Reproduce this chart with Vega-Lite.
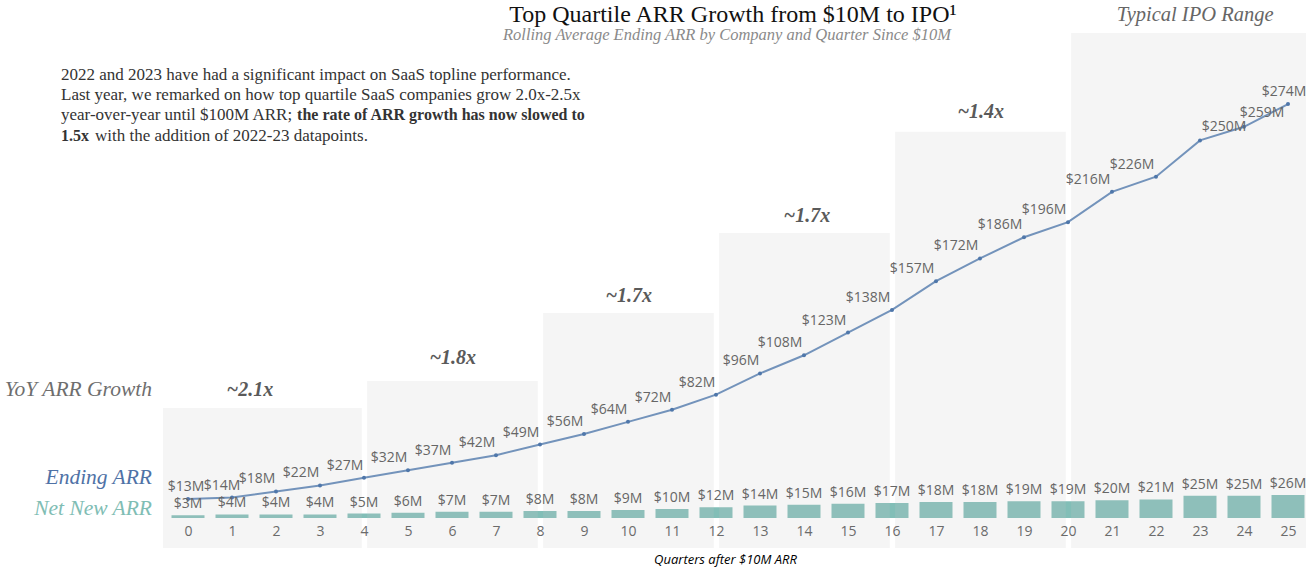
{
  "$schema": "https://vega.github.io/schema/vega-lite/v6.json",
  "width": 1314,
  "height": 570,
  "padding": 0,
  "autosize": {"type": "none"},
  "background": "#ffffff",
  "config": {"view": {"stroke": null}},
  "datasets": {
    "arr": [
      {"q": 0, "ending": 13, "netnew": 3},
      {"q": 1, "ending": 14, "netnew": 4},
      {"q": 2, "ending": 18, "netnew": 4},
      {"q": 3, "ending": 22, "netnew": 4},
      {"q": 4, "ending": 27, "netnew": 5},
      {"q": 5, "ending": 32, "netnew": 6},
      {"q": 6, "ending": 37, "netnew": 7},
      {"q": 7, "ending": 42, "netnew": 7},
      {"q": 8, "ending": 49, "netnew": 8},
      {"q": 9, "ending": 56, "netnew": 8},
      {"q": 10, "ending": 64, "netnew": 9},
      {"q": 11, "ending": 72, "netnew": 10},
      {"q": 12, "ending": 82, "netnew": 12},
      {"q": 13, "ending": 96, "netnew": 14},
      {"q": 14, "ending": 108, "netnew": 15},
      {"q": 15, "ending": 123, "netnew": 16},
      {"q": 16, "ending": 138, "netnew": 17},
      {"q": 17, "ending": 157, "netnew": 18},
      {"q": 18, "ending": 172, "netnew": 18},
      {"q": 19, "ending": 186, "netnew": 19},
      {"q": 20, "ending": 196, "netnew": 19},
      {"q": 21, "ending": 216, "netnew": 20},
      {"q": 22, "ending": 226, "netnew": 21},
      {"q": 23, "ending": 250, "netnew": 25},
      {"q": 24, "ending": 259, "netnew": 25},
      {"q": 25, "ending": 274, "netnew": 26}
    ],
    "boxes": [
      {"q": -0.57, "q2": 3.95, "top": 73.2, "bottom": -19.4},
      {"q": 4.07, "q2": 7.95, "top": 91.0, "bottom": -19.4},
      {"q": 8.07, "q2": 11.95, "top": 136.0, "bottom": -19.4},
      {"q": 12.07, "q2": 15.95, "top": 188.8, "bottom": -19.4},
      {"q": 16.07, "q2": 19.95, "top": 255.8, "bottom": -19.4},
      {"q": 20.07, "q2": 25.41, "top": 321.0, "bottom": -19.4}
    ],
    "growth": [
      {"q": 1.41, "v": 85.0, "label": "~2.1x"},
      {"q": 6.02, "v": 106.2, "label": "~1.8x"},
      {"q": 10.02, "v": 147.2, "label": "~1.7x"},
      {"q": 14.07, "v": 200.0, "label": "~1.7x"},
      {"q": 18.02, "v": 268.8, "label": "~1.4x"}
    ],
    "ipo": [{"q": 22.89, "v": 332.9, "label": "Typical IPO Range"}],
    "leftlabels": [
      {"q": -0.818, "v": 85.05, "label": "YoY ARR Growth", "group": "growth"},
      {"q": -0.818, "v": 26.9, "label": "Ending ARR", "group": "ending"},
      {"q": -0.818, "v": 6.4, "label": "Net New ARR", "group": "netnew"}
    ],
    "title": [{"q": 12.386, "v": 332.9, "label": "Top Quartile ARR Growth from $10M to IPO¹"}],
    "subtitle": [{"q": 12.25, "v": 319.7, "label": "Rolling Average Ending ARR by Company and Quarter Since $10M"}],
    "paranormal": [
      {"q": -2.886, "v": 293.3, "label": "2022 and 2023 have had a significant impact on SaaS topline performance."},
      {"q": -2.886, "v": 280.1, "label": "Last year, we remarked on how top quartile SaaS companies grow 2.0x-2.5x"},
      {"q": -2.886, "v": 266.9, "label": "year-over-year until $100M ARR;"},
      {"q": -2.114, "v": 253.0, "label": "with the addition of 2022-23 datapoints."}
    ],
    "parabold": [
      {"q": 2.48, "v": 266.9, "label": "the rate of ARR growth has now slowed to"},
      {"q": -2.886, "v": 253.0, "label": "1.5x"}
    ]
  },
  "encoding": {
    "x": {
      "field": "q",
      "type": "quantitative",
      "scale": {"domain": [-4.2727, 25.591], "nice": false, "zero": false, "padding": 0},
      "axis": {
        "values": [0,1,2,3,4,5,6,7,8,9,10,11,12,13,14,15,16,17,18,19,20,21,22,23,24,25],
        "orient": "bottom",
        "offset": -46,
        "domain": false,
        "ticks": false,
        "grid": false,
        "labelFont": "Open Sans",
        "labelFontSize": 14,
        "labelColor": "#6b6b6b",
        "labelPadding": 0,
        "labelOverlap": false,
        "labelFlush": false,
        "title": "Quarters after $10M ARR",
        "titleFont": "Open Sans",
        "titleFontStyle": "italic",
        "titleFontWeight": "normal",
        "titleFontSize": 13,
        "titleColor": "#000000",
        "titlePadding": 15,
        "titleX": 725,
        "zindex": 1
      }
    }
  },
  "layer": [
    {
      "data": {"name": "arr"},
      "mark": {"type": "bar", "width": 33, "color": "#82beb7"},
      "encoding": {
        "y": {"field": "netnew", "type": "quantitative", "scale": {"domain": [-58.8, 585.3], "nice": false, "zero": false}, "axis": null},
        "y2": {"datum": 0}
      }
    },
    {
      "layer": [
        {
          "data": {"name": "boxes"},
          "mark": {"type": "rect", "color": "#c8c8c8", "opacity": 0.18},
          "encoding": {
            "x2": {"field": "q2"},
            "y": {"field": "top", "type": "quantitative", "scale": {"domain": [-33.9, 342.8], "nice": false, "zero": false}, "axis": null},
            "y2": {"field": "bottom"}
          }
        },
        {
          "data": {"name": "arr"},
          "mark": {"type": "line", "color": "#7393bb", "strokeWidth": 2},
          "encoding": {
            "y": {"field": "ending", "type": "quantitative", "scale": {"domain": [-33.9, 342.8], "nice": false, "zero": false}, "axis": null}
          }
        },
        {
          "data": {"name": "arr"},
          "mark": {"type": "point", "filled": true, "color": "#4f77aa", "size": 16, "opacity": 1},
          "encoding": {
            "y": {"field": "ending", "type": "quantitative", "scale": {"domain": [-33.9, 342.8], "nice": false, "zero": false}, "axis": null}
          }
        },
        {
          "data": {"name": "arr"},
          "transform": [{"filter": "datum.q == 0"}, {"calculate": "'$' + datum.ending + 'M'", "as": "lbl"}],
          "mark": {"type": "text", "font": "Open Sans", "fontSize": 14, "color": "#666666", "baseline": "middle", "dy": -12, "dx": -2},
          "encoding": {
            "y": {"field": "ending", "type": "quantitative", "scale": {"domain": [-33.9, 342.8], "nice": false, "zero": false}, "axis": null},
            "text": {"field": "lbl"}
          }
        },
        {
          "data": {"name": "arr"},
          "transform": [{"filter": "datum.q == 1"}, {"calculate": "'$' + datum.ending + 'M'", "as": "lbl"}],
          "mark": {"type": "text", "font": "Open Sans", "fontSize": 14, "color": "#666666", "baseline": "middle", "dy": -12, "dx": -10},
          "encoding": {
            "y": {"field": "ending", "type": "quantitative", "scale": {"domain": [-33.9, 342.8], "nice": false, "zero": false}, "axis": null},
            "text": {"field": "lbl"}
          }
        },
        {
          "data": {"name": "arr"},
          "transform": [{"filter": "datum.q >= 2 && datum.q <= 13"}, {"calculate": "'$' + datum.ending + 'M'", "as": "lbl"}],
          "mark": {"type": "text", "font": "Open Sans", "fontSize": 14, "color": "#666666", "baseline": "middle", "dy": -12, "dx": -19},
          "encoding": {
            "y": {"field": "ending", "type": "quantitative", "scale": {"domain": [-33.9, 342.8], "nice": false, "zero": false}, "axis": null},
            "text": {"field": "lbl"}
          }
        },
        {
          "data": {"name": "arr"},
          "transform": [{"filter": "datum.q >= 14 && datum.q <= 22"}, {"calculate": "'$' + datum.ending + 'M'", "as": "lbl"}],
          "mark": {"type": "text", "font": "Open Sans", "fontSize": 14, "color": "#666666", "baseline": "middle", "dy": -12, "dx": -24},
          "encoding": {
            "y": {"field": "ending", "type": "quantitative", "scale": {"domain": [-33.9, 342.8], "nice": false, "zero": false}, "axis": null},
            "text": {"field": "lbl"}
          }
        },
        {
          "data": {"name": "arr"},
          "transform": [{"filter": "datum.q == 23"}, {"calculate": "'$' + datum.ending + 'M'", "as": "lbl"}],
          "mark": {"type": "text", "font": "Open Sans", "fontSize": 14, "color": "#666666", "baseline": "middle", "dy": -13, "dx": 24},
          "encoding": {
            "y": {"field": "ending", "type": "quantitative", "scale": {"domain": [-33.9, 342.8], "nice": false, "zero": false}, "axis": null},
            "text": {"field": "lbl"}
          }
        },
        {
          "data": {"name": "arr"},
          "transform": [{"filter": "datum.q == 24"}, {"calculate": "'$' + datum.ending + 'M'", "as": "lbl"}],
          "mark": {"type": "text", "font": "Open Sans", "fontSize": 14, "color": "#666666", "baseline": "middle", "dy": -14, "dx": 18},
          "encoding": {
            "y": {"field": "ending", "type": "quantitative", "scale": {"domain": [-33.9, 342.8], "nice": false, "zero": false}, "axis": null},
            "text": {"field": "lbl"}
          }
        },
        {
          "data": {"name": "arr"},
          "transform": [{"filter": "datum.q == 25"}, {"calculate": "'$' + datum.ending + 'M'", "as": "lbl"}],
          "mark": {"type": "text", "font": "Open Sans", "fontSize": 14, "color": "#666666", "baseline": "middle", "dy": -12, "dx": -4},
          "encoding": {
            "y": {"field": "ending", "type": "quantitative", "scale": {"domain": [-33.9, 342.8], "nice": false, "zero": false}, "axis": null},
            "text": {"field": "lbl"}
          }
        },
        {
          "data": {"name": "growth"},
          "mark": {"type": "text", "font": "Liberation Serif", "fontSize": 20, "fontStyle": "italic", "fontWeight": "bold", "color": "#5a5a5a", "baseline": "middle", "align": "center"},
          "encoding": {
            "y": {"field": "v", "type": "quantitative", "scale": {"domain": [-33.9, 342.8], "nice": false, "zero": false}, "axis": null},
            "text": {"field": "label"}
          }
        },
        {
          "data": {"name": "ipo"},
          "mark": {"type": "text", "font": "Liberation Serif", "fontSize": 20.5, "fontStyle": "italic", "color": "#666666", "baseline": "middle", "align": "center"},
          "encoding": {
            "y": {"field": "v", "type": "quantitative", "scale": {"domain": [-33.9, 342.8], "nice": false, "zero": false}, "axis": null},
            "text": {"field": "label"}
          }
        },
        {
          "data": {"name": "leftlabels"},
          "mark": {"type": "text", "font": "Liberation Serif", "fontSize": 21.5, "fontStyle": "italic", "baseline": "middle", "align": "right"},
          "encoding": {
            "y": {"field": "v", "type": "quantitative", "scale": {"domain": [-33.9, 342.8], "nice": false, "zero": false}, "axis": null},
            "text": {"field": "label"},
            "color": {"field": "group", "type": "nominal", "scale": {"domain": ["growth", "ending", "netnew"], "range": ["#6e6e6e", "#4f72a6", "#80bdb4"]}, "legend": null}
          }
        },
        {
          "data": {"name": "title"},
          "mark": {"type": "text", "font": "Liberation Serif", "fontSize": 24, "color": "#111111", "baseline": "middle", "align": "center"},
          "encoding": {
            "y": {"field": "v", "type": "quantitative", "scale": {"domain": [-33.9, 342.8], "nice": false, "zero": false}, "axis": null},
            "text": {"field": "label"}
          }
        },
        {
          "data": {"name": "subtitle"},
          "mark": {"type": "text", "font": "Liberation Serif", "fontSize": 16.5, "fontStyle": "italic", "color": "#8a8a8a", "baseline": "middle", "align": "center"},
          "encoding": {
            "y": {"field": "v", "type": "quantitative", "scale": {"domain": [-33.9, 342.8], "nice": false, "zero": false}, "axis": null},
            "text": {"field": "label"}
          }
        },
        {
          "data": {"name": "paranormal"},
          "mark": {"type": "text", "font": "Liberation Serif", "fontSize": 17, "color": "#333333", "baseline": "middle", "align": "left"},
          "encoding": {
            "y": {"field": "v", "type": "quantitative", "scale": {"domain": [-33.9, 342.8], "nice": false, "zero": false}, "axis": null},
            "text": {"field": "label"}
          }
        },
        {
          "data": {"name": "parabold"},
          "mark": {"type": "text", "font": "Liberation Serif", "fontSize": 16, "fontWeight": "bold", "color": "#333333", "baseline": "middle", "align": "left"},
          "encoding": {
            "y": {"field": "v", "type": "quantitative", "scale": {"domain": [-33.9, 342.8], "nice": false, "zero": false}, "axis": null},
            "text": {"field": "label"}
          }
        }
      ]
    },
    {
      "data": {"name": "arr"},
      "transform": [{"calculate": "'$' + datum.netnew + 'M'", "as": "lbl"}],
      "mark": {"type": "text", "font": "Open Sans", "fontSize": 14, "color": "#666666", "baseline": "middle", "dy": -11},
      "encoding": {
        "y": {"field": "netnew", "type": "quantitative", "scale": {"domain": [-58.8, 585.3], "nice": false, "zero": false}, "axis": null},
        "text": {"field": "lbl"}
      }
    }
  ],
  "resolve": {"scale": {"y": "independent"}}
}
